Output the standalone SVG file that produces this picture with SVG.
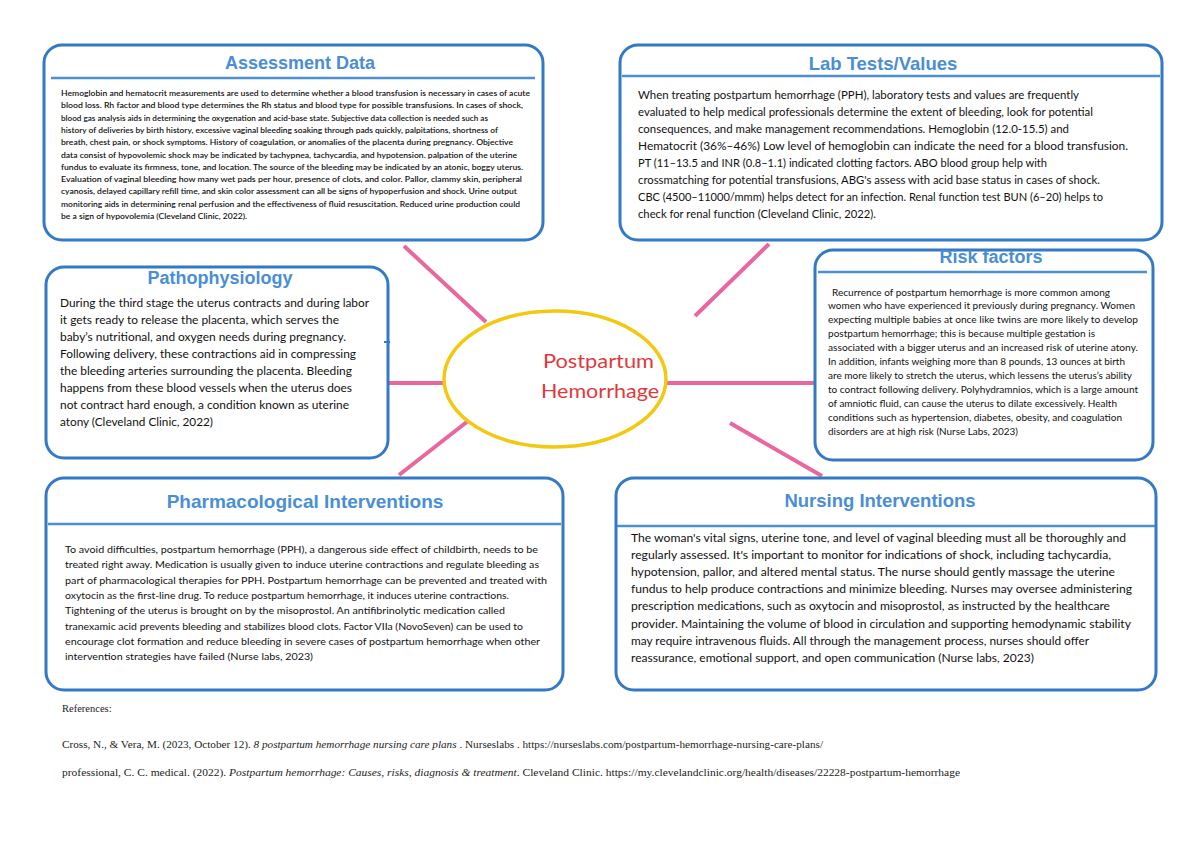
<svg xmlns="http://www.w3.org/2000/svg" width="1200" height="849" viewBox="0 0 1200 849">
<style>
.bg{fill:#ffffff}
.box{fill:#ffffff;stroke:#3479C6;stroke-width:3}
.ttl{font-family:"Liberation Sans",Arial,sans-serif;font-weight:bold;font-size:18px;fill:#4A8ED4;text-anchor:middle}
.ul{stroke:#4D8FD3;stroke-width:2.5;fill:none}
.tx{font-family:Lato,"Open Sans","Liberation Sans",sans-serif;fill:#111111}
.s8{font-size:8.2px;font-weight:600}
.s9{font-size:9.3px}
.s10{font-size:9.9px}
.s11{font-size:11.2px}
.con{stroke:#E9679F;stroke-width:4;fill:none}
.ref{font-family:"Liberation Serif","Times New Roman",serif;font-size:10.5px;fill:#222}
.it{font-style:italic}
.ctr{font-family:Lato,"Open Sans","Liberation Sans",sans-serif;font-size:20px;fill:#E2383C}
</style>
<rect class="bg" x="0" y="0" width="1200" height="849"/>

<g id="connectors">
<line class="con" x1="404" y1="246" x2="486" y2="322"/>
<line class="con" x1="769" y1="244" x2="695" y2="316"/>
<line class="con" x1="389" y1="383" x2="443" y2="383"/>
<line class="con" x1="667" y1="383" x2="814" y2="383"/>
<line class="con" x1="399" y1="475" x2="468" y2="421"/>
<line class="con" x1="730" y1="423" x2="822" y2="476"/>
</g>

<g id="center">
<ellipse cx="555" cy="379" rx="111" ry="68" fill="#ffffff" stroke="#F2C811" stroke-width="3.5"/>
<text class="ctr" x="543" y="368" textLength="111" lengthAdjust="spacingAndGlyphs">Postpartum</text>
<text class="ctr" x="541" y="398" textLength="118" lengthAdjust="spacingAndGlyphs">Hemorrhage</text>
</g>

<g id="assessment">
<rect class="box" x="44" y="45" width="499" height="195" rx="18"/>
<text class="ttl" x="300" y="69">Assessment Data</text>
<line class="ul" x1="51" y1="78" x2="535" y2="78"/>
<g class="tx s8">
<text x="61" y="96" textLength="469" lengthAdjust="spacingAndGlyphs">Hemoglobin and hematocrit measurements are used to determine whether a blood transfusion is necessary in cases of acute</text>
<text x="61" y="108.3" textLength="462" lengthAdjust="spacingAndGlyphs">blood loss. Rh factor and blood type determines the Rh status and blood type for possible transfusions. In cases of shock,</text>
<text x="61" y="120.6" textLength="427" lengthAdjust="spacingAndGlyphs">blood gas analysis aids in determining the oxygenation and acid-base state. Subjective data collection is needed such as</text>
<text x="61" y="132.9" textLength="437" lengthAdjust="spacingAndGlyphs">history of deliveries by birth history, excessive vaginal bleeding soaking through pads quickly, palpitations, shortness of</text>
<text x="61" y="145.2" textLength="452" lengthAdjust="spacingAndGlyphs">breath, chest pain, or shock symptoms. History of coagulation, or anomalies of the placenta during pregnancy. Objective</text>
<text x="61" y="157.5" textLength="456" lengthAdjust="spacingAndGlyphs">data consist of hypovolemic shock may be indicated by tachypnea, tachycardia, and hypotension. palpation of the uterine</text>
<text x="61" y="169.8" textLength="462" lengthAdjust="spacingAndGlyphs">fundus to evaluate its firmness, tone, and location. The source of the bleeding may be indicated by an atonic, boggy uterus.</text>
<text x="61" y="182.1" textLength="461" lengthAdjust="spacingAndGlyphs">Evaluation of vaginal bleeding how many wet pads per hour, presence of clots, and color. Pallor, clammy skin, peripheral</text>
<text x="61" y="194.4" textLength="456" lengthAdjust="spacingAndGlyphs">cyanosis, delayed capillary refill time, and skin color assessment can all be signs of hypoperfusion and shock. Urine output</text>
<text x="61" y="206.7" textLength="459" lengthAdjust="spacingAndGlyphs">monitoring aids in determining renal perfusion and the effectiveness of fluid resuscitation. Reduced urine production could</text>
<text x="61" y="219" textLength="186" lengthAdjust="spacingAndGlyphs">be a sign of hypovolemia (Cleveland Clinic, 2022).</text>
</g>
</g>

<g id="lab">
<rect class="box" x="620" y="45" width="542" height="195" rx="18"/>
<text class="ttl" x="883" y="69.5" style="font-size:18.5px">Lab Tests/Values</text>
<line class="ul" x1="622" y1="76" x2="1160" y2="76"/>
<g class="tx s11">
<text x="638" y="99" textLength="441" lengthAdjust="spacingAndGlyphs">When treating postpartum hemorrhage (PPH), laboratory tests and values are frequently</text>
<text x="638" y="116" textLength="455" lengthAdjust="spacingAndGlyphs">evaluated to help medical professionals determine the extent of bleeding, look for potential</text>
<text x="638" y="133" textLength="431" lengthAdjust="spacingAndGlyphs">consequences, and make management recommendations. Hemoglobin (12.0-15.5) and</text>
<text x="638" y="150" textLength="490" lengthAdjust="spacingAndGlyphs">Hematocrit (36%–46%) Low level of hemoglobin can indicate the need for a blood transfusion.</text>
<text x="638" y="167" textLength="409" lengthAdjust="spacingAndGlyphs">PT (11–13.5 and INR (0.8–1.1) indicated clotting factors. ABO blood group help with</text>
<text x="638" y="184" textLength="462" lengthAdjust="spacingAndGlyphs">crossmatching for potential transfusions, ABG's assess with acid base status in cases of shock.</text>
<text x="638" y="201" textLength="465" lengthAdjust="spacingAndGlyphs">CBC (4500–11000/mmm) helps detect for an infection. Renal function test BUN (6–20) helps to</text>
<text x="638" y="218" textLength="238" lengthAdjust="spacingAndGlyphs">check for renal function (Cleveland Clinic, 2022).</text>
</g>
</g>

<g id="pathophysiology">
<rect class="box" x="46" y="267" width="342" height="191" rx="18"/>
<line x1="384" y1="342" x2="390" y2="342" stroke="#3479C6" stroke-width="2"/>
<text class="ttl" x="220" y="283.5">Pathophysiology</text>
<g class="tx s11">
<text x="60" y="307" textLength="309" lengthAdjust="spacingAndGlyphs">During the third stage the uterus contracts and during labor</text>
<text x="60" y="324" textLength="279" lengthAdjust="spacingAndGlyphs">it gets ready to release the placenta, which serves the</text>
<text x="60" y="341" textLength="286" lengthAdjust="spacingAndGlyphs">baby’s nutritional, and oxygen needs during pregnancy.</text>
<text x="60" y="358" textLength="296" lengthAdjust="spacingAndGlyphs">Following delivery, these contractions aid in compressing</text>
<text x="60" y="375" textLength="292" lengthAdjust="spacingAndGlyphs">the bleeding arteries surrounding the placenta. Bleeding</text>
<text x="60" y="392" textLength="292" lengthAdjust="spacingAndGlyphs">happens from these blood vessels when the uterus does</text>
<text x="60" y="409" textLength="289" lengthAdjust="spacingAndGlyphs">not contract hard enough,  a condition known as uterine</text>
<text x="60" y="426" textLength="153" lengthAdjust="spacingAndGlyphs">atony (Cleveland Clinic, 2022)</text>
</g>
</g>

<g id="risk">
<rect class="box" x="815" y="250" width="338" height="210" rx="18"/>
<text class="ttl" x="991" y="262.5">Risk factors</text>
<line class="ul" x1="818" y1="272" x2="1147" y2="272"/>
<g class="tx s9">
<text x="832" y="295.5" textLength="278" lengthAdjust="spacingAndGlyphs">Recurrence of postpartum hemorrhage is more common among</text>
<text x="828" y="309.4" textLength="307" lengthAdjust="spacingAndGlyphs">women who have experienced it previously during pregnancy. Women</text>
<text x="828" y="323.3" textLength="310" lengthAdjust="spacingAndGlyphs">expecting multiple babies at once like twins are more likely to develop</text>
<text x="828" y="337.2" textLength="267" lengthAdjust="spacingAndGlyphs">postpartum hemorrhage; this is because multiple gestation is</text>
<text x="828" y="351.1" textLength="310" lengthAdjust="spacingAndGlyphs">associated with a bigger uterus and an increased risk of uterine atony.</text>
<text x="828" y="365" textLength="297" lengthAdjust="spacingAndGlyphs">In addition, infants weighing more than 8 pounds, 13 ounces at birth</text>
<text x="828" y="378.9" textLength="304" lengthAdjust="spacingAndGlyphs">are more likely to stretch the uterus, which lessens the uterus’s ability</text>
<text x="828" y="392.8" textLength="310" lengthAdjust="spacingAndGlyphs">to contract following delivery. Polyhydramnios, which is a large amount</text>
<text x="828" y="406.7" textLength="289" lengthAdjust="spacingAndGlyphs">of amniotic fluid, can cause the uterus to dilate excessively. Health</text>
<text x="828" y="420.6" textLength="294" lengthAdjust="spacingAndGlyphs">conditions such as hypertension, diabetes, obesity, and coagulation</text>
<text x="828" y="434.5" textLength="190" lengthAdjust="spacingAndGlyphs">disorders are at high risk (Nurse Labs, 2023)</text>
</g>
</g>

<g id="pharmacological">
<rect class="box" x="46" y="478" width="517" height="212" rx="18"/>
<text class="ttl" x="305" y="508" style="font-size:19px">Pharmacological Interventions</text>
<line class="ul" x1="48" y1="524" x2="561" y2="524"/>
<g class="tx s10">
<text x="65" y="553" textLength="473" lengthAdjust="spacingAndGlyphs">To avoid difficulties, postpartum hemorrhage (PPH), a dangerous side effect of childbirth, needs to be</text>
<text x="65" y="568.3" textLength="474" lengthAdjust="spacingAndGlyphs">treated right away. Medication is usually given to induce uterine contractions and regulate bleeding as</text>
<text x="65" y="583.6" textLength="482" lengthAdjust="spacingAndGlyphs">part of pharmacological therapies for PPH. Postpartum hemorrhage can be prevented and treated with</text>
<text x="65" y="598.9" textLength="444" lengthAdjust="spacingAndGlyphs">oxytocin as the first-line drug. To reduce postpartum hemorrhage, it induces uterine contractions.</text>
<text x="65" y="614.2" textLength="440" lengthAdjust="spacingAndGlyphs">Tightening of the uterus is brought on by the misoprostol. An antifibrinolytic medication called</text>
<text x="65" y="629.5" textLength="458" lengthAdjust="spacingAndGlyphs">tranexamic acid prevents bleeding and stabilizes blood clots. Factor VIIa (NovoSeven) can be used to</text>
<text x="65" y="644.8" textLength="475" lengthAdjust="spacingAndGlyphs">encourage clot formation and reduce bleeding in severe cases of postpartum hemorrhage when other</text>
<text x="65" y="660.1" textLength="248" lengthAdjust="spacingAndGlyphs">intervention strategies have failed (Nurse labs, 2023)</text>
</g>
</g>

<g id="nursing">
<rect class="box" x="616" y="478" width="540" height="212" rx="18"/>
<text class="ttl" x="880" y="507" style="font-size:18.5px">Nursing Interventions</text>
<line class="ul" x1="617" y1="526" x2="1155" y2="526"/>
<g class="tx s11">
<text x="631" y="542" textLength="495" lengthAdjust="spacingAndGlyphs">The woman's vital signs, uterine tone, and level of vaginal bleeding must all be thoroughly and</text>
<text x="631" y="559.1" textLength="480" lengthAdjust="spacingAndGlyphs">regularly assessed. It's important to monitor for indications of shock, including tachycardia,</text>
<text x="631" y="576.2" textLength="484" lengthAdjust="spacingAndGlyphs">hypotension, pallor, and altered mental status. The nurse should gently massage the uterine</text>
<text x="631" y="593.3" textLength="501" lengthAdjust="spacingAndGlyphs">fundus to help produce contractions and minimize bleeding. Nurses may oversee administering</text>
<text x="631" y="610.4" textLength="479" lengthAdjust="spacingAndGlyphs">prescription medications, such as oxytocin and misoprostol, as instructed by the healthcare</text>
<text x="631" y="627.5" textLength="500" lengthAdjust="spacingAndGlyphs">provider. Maintaining the volume of blood in circulation and supporting hemodynamic stability</text>
<text x="631" y="644.6" textLength="458" lengthAdjust="spacingAndGlyphs">may require intravenous fluids. All through the management process, nurses should offer</text>
<text x="631" y="661.7" textLength="403" lengthAdjust="spacingAndGlyphs">reassurance, emotional support, and open communication (Nurse labs, 2023)</text>
</g>
</g>

<g id="references">
<text class="ref" x="62" y="712">References:</text>
<text class="ref" x="62" y="748" textLength="761" lengthAdjust="spacingAndGlyphs">Cross, N., &amp; Vera, M. (2023, October 12). <tspan class="it">8 postpartum hemorrhage nursing care plans</tspan> . Nurseslabs . https://nurseslabs.com/postpartum-hemorrhage-nursing-care-plans/</text>
<text class="ref" x="62" y="776" textLength="898" lengthAdjust="spacingAndGlyphs">professional, C. C. medical. (2022). <tspan class="it">Postpartum hemorrhage:  Causes, risks, diagnosis &amp; treatment</tspan>. Cleveland Clinic. https://my.clevelandclinic.org/health/diseases/22228-postpartum-hemorrhage</text>
</g>
</svg>
